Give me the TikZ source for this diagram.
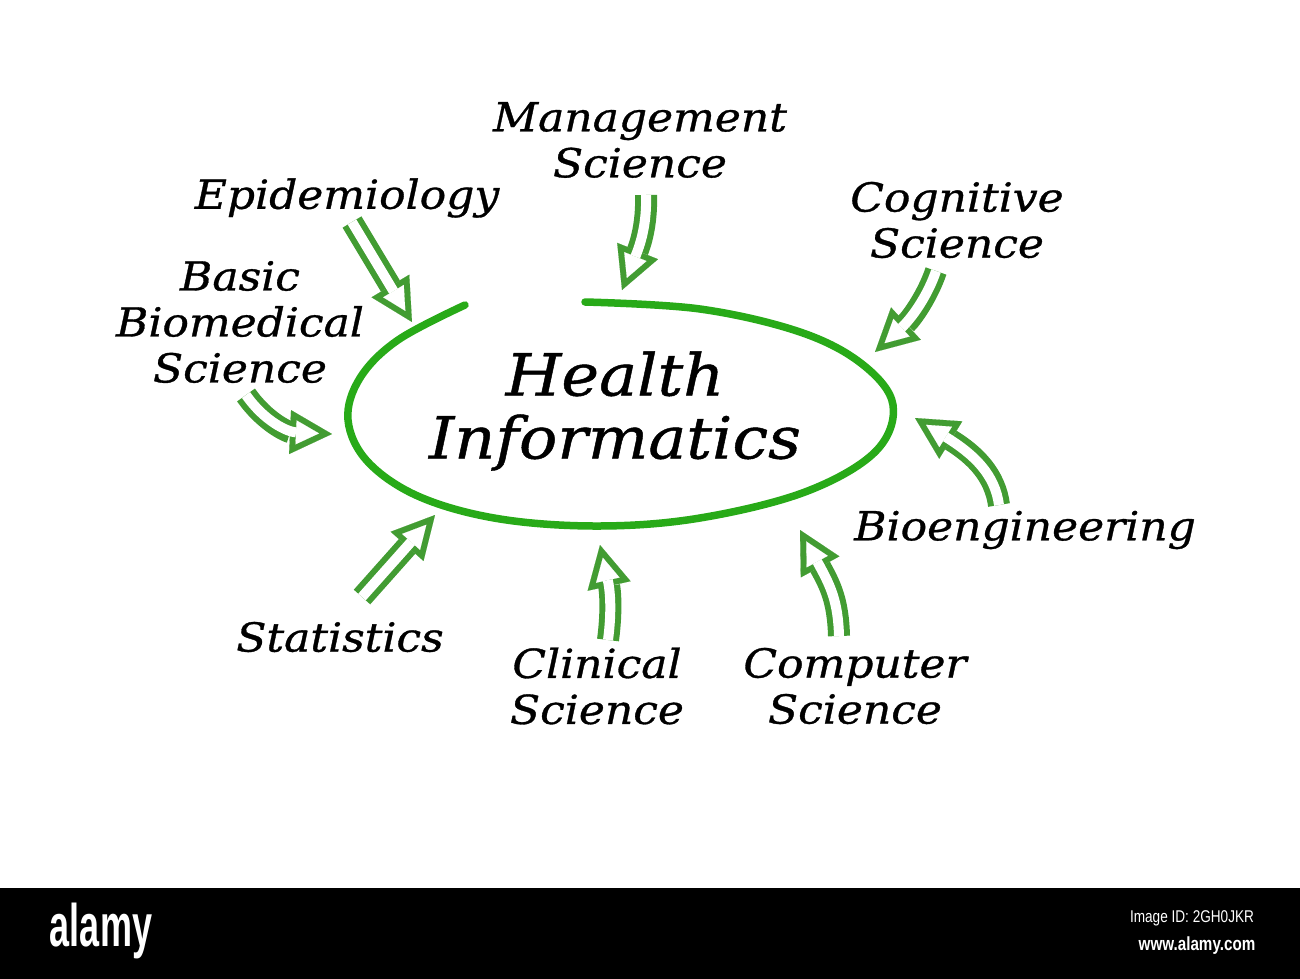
\documentclass[tikz,border=0pt]{standalone}
\usepackage{fontspec}
\setmainfont{DejaVu Serif}[FakeStretch=1.1,FakeBold=0.8]
\newfontfamily\wmfont{Liberation Sans}
\usetikzlibrary{arrows.meta}
\definecolor{agreen}{RGB}{66,156,50}
\definecolor{egreen}{RGB}{40,170,24}
\tikzset{
  lbl/.style={font=\fontsize{40}{46}\selectfont\itshape, align=center, inner sep=0pt},
  ttl/.style={font=\fontsize{58}{63}\selectfont\itshape, align=center, inner sep=0pt},
  arrout/.style={draw=agreen, line width=22pt, -{Triangle[length=42pt,width=44pt,line width=0.1pt]}},
  arrin/.style={draw=white, line width=10pt, shorten >=13pt, -{Triangle[length=23pt,width=24pt,line width=0.1pt]}},
  ell/.style={draw=egreen, line cap=round, line join=round},
  wm/.style={text=white, inner sep=0pt},
}
\newcommand\hollow[1]{\draw[arrout] #1; \draw[arrin] #1;}
\begin{document}
\begin{tikzpicture}[x=1pt,y=-1pt]
\useasboundingbox (0,0) rectangle (1300,979);
\fill[white] (0,0) rectangle (1300,979);

% labels
\node[lbl] (mgmt) at (640,140) {Management\\Science};
\node[lbl] (epi) at (347,198) {Epidemiology};
\node[lbl] (cog) at (957,220) {Cognitive\\Science};
\node[lbl] (bbs) at (240,322) {Basic\\Biomedical\\Science};
\node[ttl] (hi) at (615,411) {Health\\Informatics};
\node[lbl] (bio) at (1025,530) {Bioengineering};
\node[lbl] (stat) at (340,637) {Statistics};
\node[lbl] (clin) at (597,686) {Clinical\\Science};
\node[lbl] (comp) at (855,686) {Computer\\Science};

% ellipse
\draw[ell, line width=7.5pt] plot[smooth, tension=0.6] coordinates {(585,302) (700,309) (800,332) (862,364) (893,405) (875,452) (805,492) (700,518) (600,526) (500,519) (420,497) (368,462) (348,420) (360,378) (398,340) (465,305)};

% arrows
\coordinate (epiS) at (352,222); \coordinate (epiE) at (412,322);
\coordinate (bbsS) at (246,395); \coordinate (bbsE) at (332,434);
\coordinate (mgmtS) at (646,195); \coordinate (mgmtE) at (622,290);
\coordinate (cogS) at (936,271); \coordinate (cogE) at (875,352);
\coordinate (bioS) at (999,505); \coordinate (bioE) at (915,418);
\coordinate (statS) at (362,597); \coordinate (statE) at (435,515);
\coordinate (clinS) at (608,640); \coordinate (clinE) at (600,545);
\coordinate (compS) at (839,636); \coordinate (compE) at (800,530);

\hollow{(epiS) -- (epiE)}
\hollow{(bbsS) .. controls (265,422) and (288,432) .. (bbsE)}
\hollow{(mgmtS) .. controls (647,225) and (640,245) .. (mgmtE)}
\hollow{(cogS) .. controls (928,295) and (912,318) .. (cogE)}
\hollow{(bioS) .. controls (995,475) and (975,455) .. (bioE)}
\hollow{(statS) -- (statE)}
\hollow{(clinS) .. controls (612,610) and (610,590) .. (clinE)}
\hollow{(compS) .. controls (838,600) and (830,585) .. (compE)}

% watermark band
\fill[black] (0,888) rectangle (1300,979);
\node[wm, font=\wmfont\bfseries\fontsize{60}{60}\selectfont] (alamy) at (101,931) {\scalebox{0.6}[1]{alamy}};
\node[wm, font=\wmfont\fontsize{17}{17}\selectfont] (imgid) at (1192,918) {\scalebox{0.8}[1]{Image ID: 2GH0JKR}};
\node[wm, font=\wmfont\bfseries\fontsize{19}{19}\selectfont] (www) at (1197,946) {\scalebox{0.8}[1]{www.alamy.com}};
\end{tikzpicture}
\end{document}
